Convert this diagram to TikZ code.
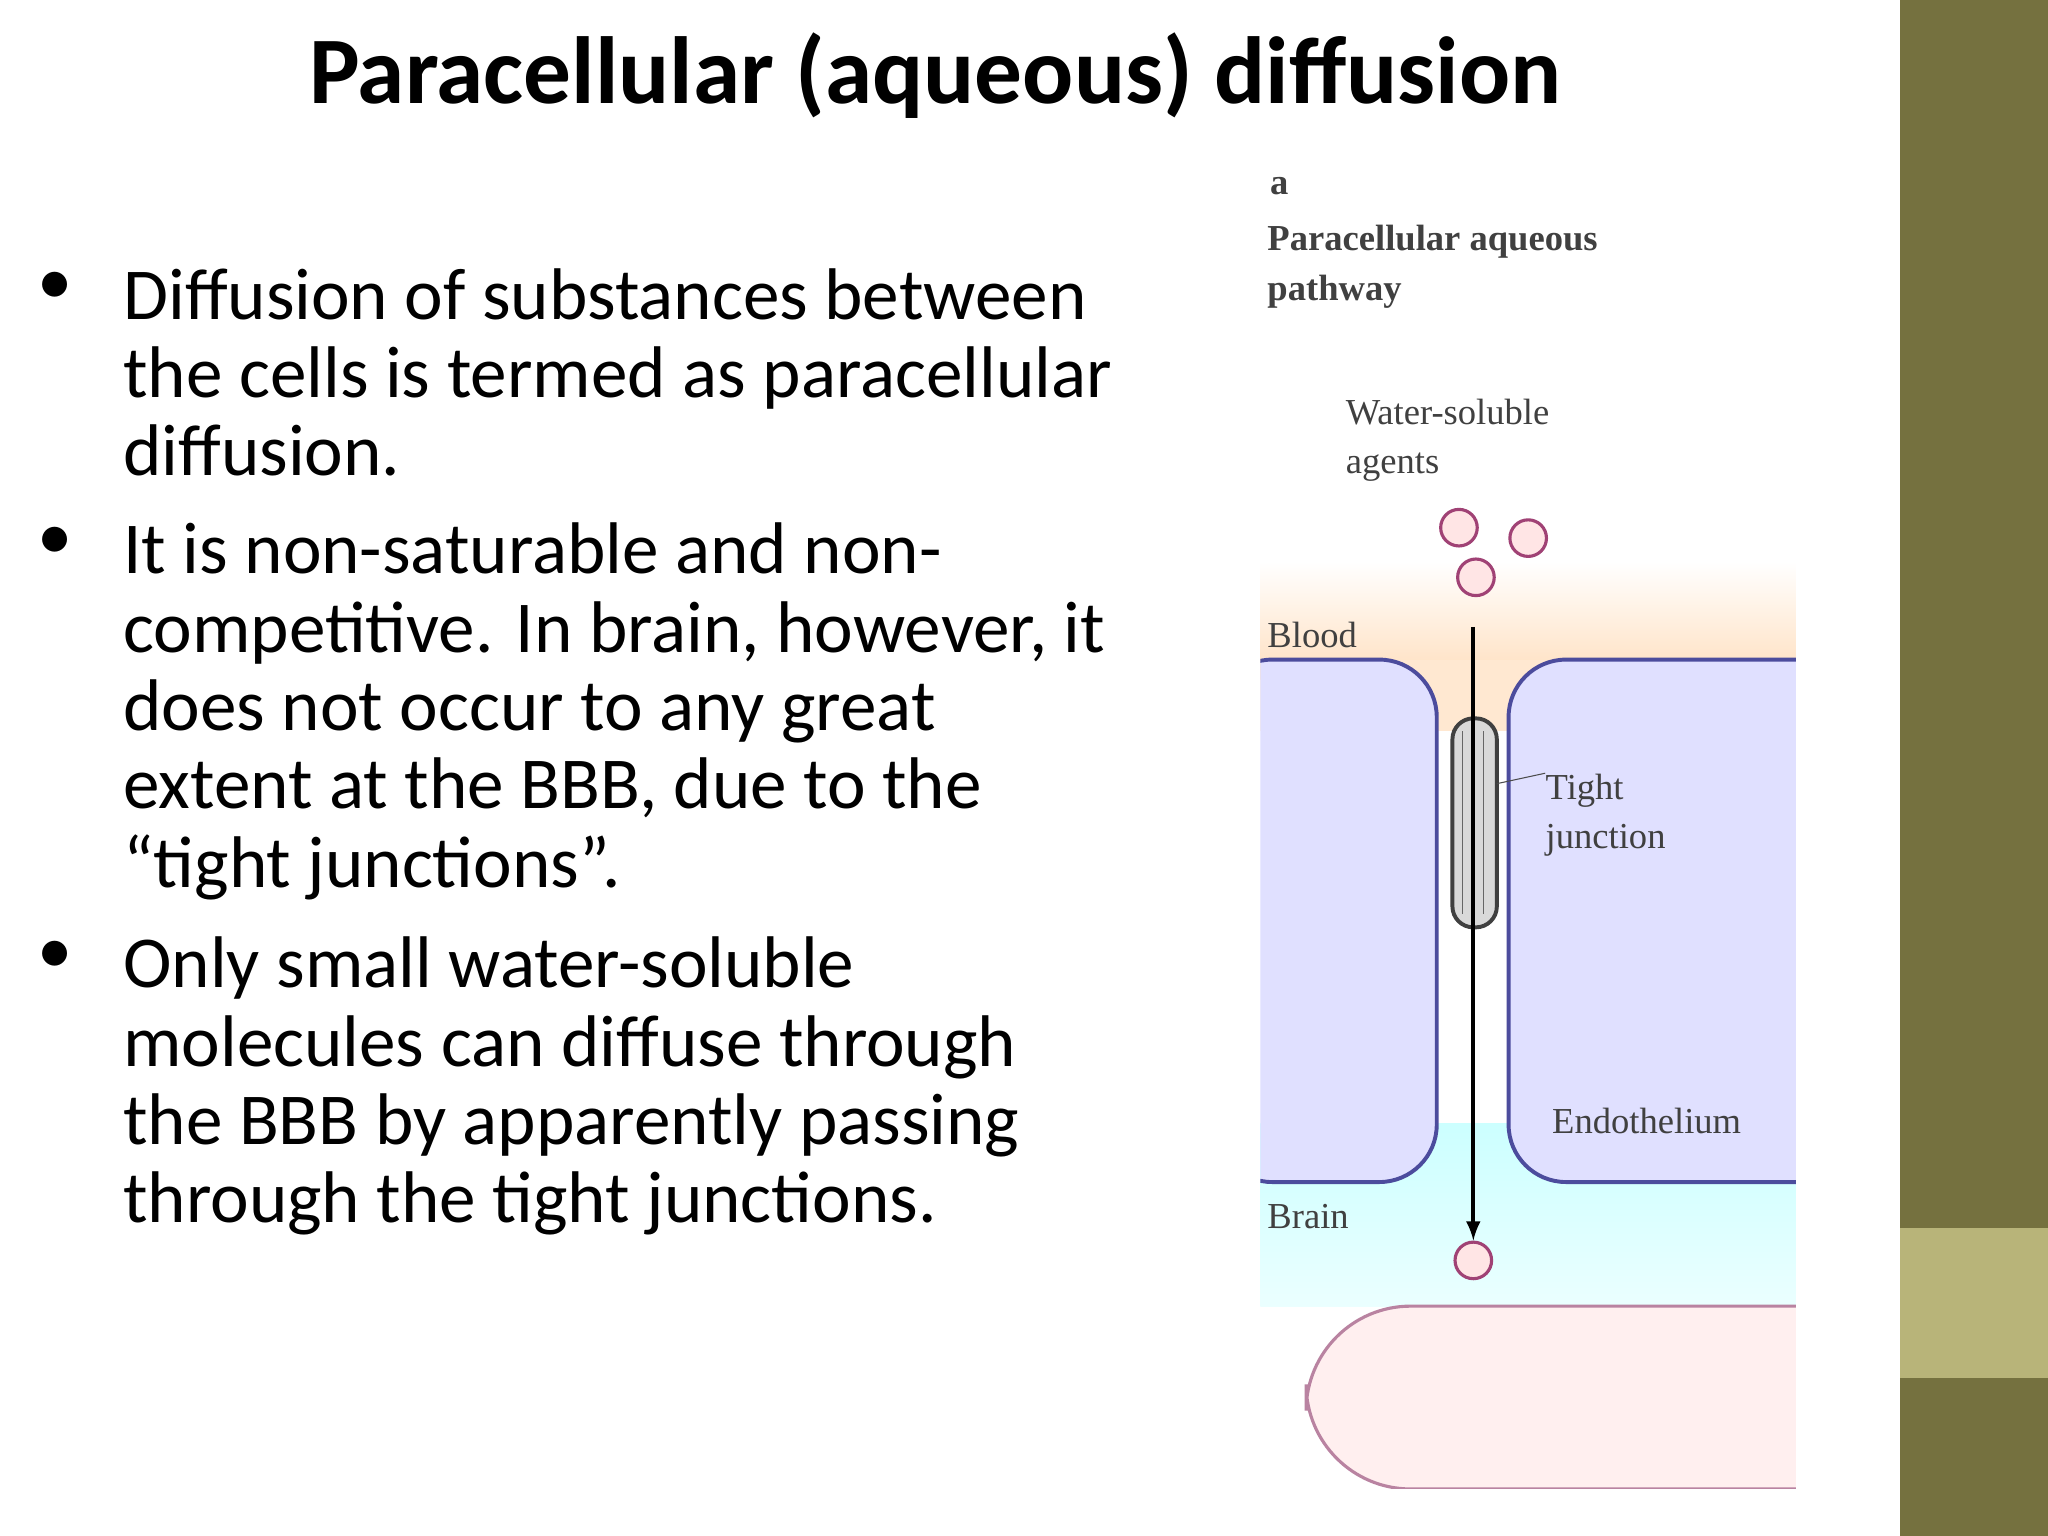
\documentclass[tikz,border=0pt]{standalone}
\usepackage{fontspec}
\setmainfont{Carlito}
\newfontfamily\figfont{Liberation Serif}
\begin{document}
\begin{tikzpicture}[x=0.5pt,y=-0.5pt,
 lab/.style={font=\figfont\fontsize{14}{15}\selectfont,text=black!75,anchor=north west,inner sep=0pt,align=left},
 bul/.style={font=\fontsize{28}{30}\selectfont,anchor=north west,inner sep=0pt,align=left},
 dot/.style={font=\fontsize{27}{30}\selectfont,anchor=north west,inner sep=0pt},
 mol/.style={circle,draw=magenta!60!black,line width=1.2pt,fill=pink!40,minimum size=14pt,inner sep=0pt},
 cell/.style={draw=blue!45!black!70,line width=1.5pt,rounded corners=22pt,fill=blue!12!white}]
\useasboundingbox (0,0) rectangle (1568,1176);
\fill[white] (0,0) rectangle (1568,1176);
\fill[olive!55!black!85] (1455,0) rectangle (1568,1176);
\fill[olive!40!white!85!black] (1455,940) rectangle (1568,1055);
\node[font=\bfseries\fontsize{36.5}{40}\selectfont,inner sep=0pt] (title) at (716,58) {Paracellular (aqueous) diffusion};
\node[dot] (d1) at (28,208) {\textbullet};
\node[bul] (b1) at (94,205) {Diffusion of substances between\\the cells is termed as paracellular\\diffusion.};
\node[dot] (d2) at (28,403) {\textbullet};
\node[bul] (b2) at (94,400) {It is non-saturable and non-\\competitive. In brain, however, it\\does not occur to any great\\extent at the BBB, due to the\\``tight junctions''.};
\node[dot] (d3) at (28,720) {\textbullet};
\node[bul] (b3) at (94,717) {Only small water-soluble\\molecules can diffuse through\\the BBB by apparently passing\\through the tight junctions.};
% figure
\begin{scope}
\clip (965,130) rectangle (1375,1140);
\shade[top color=white,bottom color=orange!25] (965,430) rectangle (1375,520);
\fill[orange!18] (965,505) rectangle (1375,560);
\shade[top color=cyan!20,bottom color=cyan!8] (965,860) rectangle (1375,1000);
\draw[cell] (930,505) rectangle (1100,905);
\draw[cell] (1155,505) rectangle (1420,905);
\draw[draw=magenta!50!black!60,line width=1.2pt,fill=pink!25,rounded corners=40pt] (1420,1140) -- (1000,1140) -- (1000,1000) -- (1420,1000);
\end{scope}
\draw[line width=1.5pt,draw=black!75,fill=gray!30,rounded corners=8pt] (1112,550) rectangle (1146,710);
\foreach \x in {1120,1128,1136} \draw[black!60] (\x,560) -- (\x,700);
\node[mol] (m1) at (1117,404) {};
\node[mol] (m2) at (1170,412) {};
\node[mol] (m3) at (1130,442) {};
\node[mol] (m4) at (1128,965) {};
\coordinate (top) at (1128,480);
\draw[line width=1.5pt,-latex] (top) -- (m4.north);
\node[lab,font=\figfont\bfseries\fontsize{14}{15}\selectfont] (a) at (972,135) {a};
\node[lab,font=\figfont\bfseries\fontsize{14}{19}\selectfont] (pt) at (970,172) {Paracellular aqueous\\pathway};
\node[lab,font=\figfont\fontsize{14}{19}\selectfont] (ws) at (1030,305) {Water-soluble\\agents};
\node[lab] (bl) at (970,476) {Blood};
\node[lab,font=\figfont\fontsize{14}{19}\selectfont] (tj) at (1183,592) {Tight\\junction};
\draw[black!70] (1146,600) -- (tj.north west);
\node[lab] (en) at (1188,848) {Endothelium};
\node[lab] (br) at (970,922) {Brain};
\end{tikzpicture}
\end{document}
